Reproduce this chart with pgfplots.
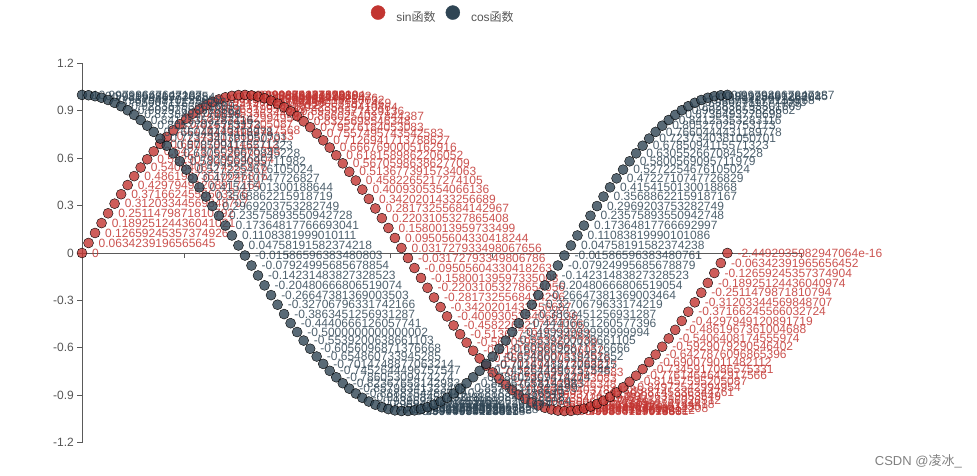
\documentclass[border=0pt]{standalone}
\usepackage{pgfplots}
\pgfplotsset{compat=1.18}
\usepackage{pgfplotstable}
\usepackage{fontspec}
\setmainfont{Liberation Sans}
\newfontfamily\cjk{Noto Sans CJK SC}

\definecolor{sinred}{HTML}{C23531}
\definecolor{cosblue}{HTML}{2F4554}
\definecolor{axisgray}{HTML}{5A5A5A}
\definecolor{labelgray}{HTML}{555555}

% sin(x) sampled at x_k = 2*pi*k/99, k = 0..99
\pgfplotstableread{
x y
0 0
0.06347 0.0634239196565645
0.12693 0.12659245357374926
0.19040 0.18925124436041021
0.25387 0.2511479871810792
0.31733 0.31203344569848707
0.38080 0.3716624556603276
0.44427 0.42979491208917164
0.50773 0.48619673610046876
0.57120 0.5406408174555976
0.63467 0.5929079290546404
0.69813 0.6427876096865393
0.76160 0.690079011482112
0.82506 0.7345917086575333
0.88853 0.7761464642917568
0.95200 0.81457595205087
1.01546 0.84972542994954
1.07893 0.88145336344761
1.14240 0.9096319953549
1.20586 0.93414786026512
1.26933 0.95490224144418
1.33280 0.9718115683235
1.39626 0.984807753012208
1.45973 0.99383846446122
1.52320 0.99886733918301
1.58666 0.99987412767388
1.65013 0.99685477595194
1.71360 0.98982144188092
1.77706 0.97880244621476
1.84053 0.96384215856032
1.90400 0.94500081871469
1.96746 0.92235429410464
2.03093 0.89599377429136
2.09440 0.8660254037844387
2.15786 0.8325698546348
2.22133 0.79576184053083
2.28479 0.7557495743542583
2.34826 0.7126941713788627
2.41173 0.6667690005162916
2.47519 0.6181589862206052
2.53866 0.5670598638627709
2.60213 0.5136773915734063
2.66559 0.4582265217274105
2.72906 0.4009305354066136
2.79253 0.3420201433256689
2.85599 0.28173255684142967
2.91946 0.2203105327865408
2.98293 0.1580013959733499
3.04639 0.09505604330418244
3.10986 0.031727933498067656
3.17333 -0.03172793349806786
3.23679 -0.09505604330418263
3.30026 -0.15800139597335008
3.36373 -0.22031053278654056
3.42719 -0.2817325568414296
3.49066 -0.3420201433256687
3.55412 -0.4009305354066136
3.61759 -0.4582265217274105
3.68106 -0.5136773915734063
3.74452 -0.5670598638627709
3.80799 -0.6181589862206052
3.87146 -0.6667690005162916
3.93492 -0.7126941713788627
3.99839 -0.7557495743542583
4.06186 -0.79576184053083
4.12532 -0.8325698546348
4.18879 -0.8660254037844386
4.25226 -0.89599377429136
4.31572 -0.92235429410464
4.37919 -0.94500081871469
4.44266 -0.96384215856032
4.50612 -0.97880244621476
4.56959 -0.98982144188092
4.63306 -0.99685477595194
4.69652 -0.99987412767388
4.75999 -0.99886733918301
4.82346 -0.99383846446122
4.88692 -0.984807753012208
4.95039 -0.9718115683235
5.01385 -0.95490224144418
5.07732 -0.93414786026512
5.14079 -0.9096319953549
5.20425 -0.88145336344761
5.26772 -0.84972542994954
5.33119 -0.81457595205087
5.39465 -0.7761464642917566
5.45812 -0.7345917086575331
5.52159 -0.690079011482112
5.58505 -0.6427876096865396
5.64852 -0.5929079290546402
5.71199 -0.5406408174555974
5.77545 -0.4861967361004688
5.83892 -0.4297949120891719
5.90239 -0.37166245566032724
5.96585 -0.31203344569848707
6.02932 -0.2511479871810794
6.09279 -0.18925124436040974
6.15625 -0.12659245357374904
6.21972 -0.06342391965656452
6.28319 -2.4492935982947064e-16
}\sindata

% cos(x) at the same sample points
\pgfplotstableread{
x y
0 1
0.06347 0.99798667647187
0.12693 0.99195481283085
0.19040 0.98192869726284
0.25387 0.96794870139658
0.31733 0.95007111774093
0.38080 0.92836793301609
0.44427 0.90292653828662
0.50773 0.8738493770698
0.57120 0.84125353283116
0.63467 0.80527025753173
0.69813 0.766044443118978
0.76160 0.7237340381050701
0.82506 0.6785094115571323
0.88853 0.6305526670845228
0.95200 0.5800569095711982
1.01546 0.5272254676105024
1.07893 0.4722710747726827
1.14240 0.41541501300188644
1.20586 0.3568862215918719
1.26933 0.2969203753282749
1.33280 0.23575893550942728
1.39626 0.17364817766693041
1.45973 0.1108381999010111
1.52320 0.04758191582374218
1.58666 -0.01586596383480803
1.65013 -0.07924995685678854
1.71360 -0.14231483827328523
1.77706 -0.20480666806519074
1.84053 -0.26647381369003503
1.90400 -0.32706796331742166
1.96746 -0.3863451256931287
2.03093 -0.4440666126057741
2.09440 -0.5000000000000002
2.15786 -0.5539200638661103
2.22133 -0.6056096871376668
2.28479 -0.654860733945285
2.34826 -0.7014748877063214
2.41173 -0.7452644496757547
2.47519 -0.78605309474274
2.53866 -0.82367658142983
2.60213 -0.85798341323499
2.66559 -0.8888354486549
2.72906 -0.91610845743218
2.79253 -0.9396926207859083
2.85599 -0.95949297361444
2.91946 -0.97542978688547
2.98293 -0.98743888867628
3.04639 -0.99547192257348
3.10986 -0.99949654238318
3.17333 -0.99949654238318
3.23679 -0.99547192257348
3.30026 -0.98743888867628
3.36373 -0.97542978688547
3.42719 -0.95949297361444
3.49066 -0.9396926207859084
3.55412 -0.91610845743218
3.61759 -0.8888354486549
3.68106 -0.85798341323499
3.74452 -0.82367658142983
3.80799 -0.78605309474274
3.87146 -0.7452644496757548
3.93492 -0.7014748877063215
3.99839 -0.6548607339452852
4.06186 -0.6056096871376666
4.12532 -0.5539200638661105
4.18879 -0.49999999999999994
4.25226 -0.44406661260577396
4.31572 -0.3863451256931287
4.37919 -0.3270679633174219
4.44266 -0.26647381369003464
4.50612 -0.20480666806519054
4.56959 -0.14231483827328523
4.63306 -0.07924995685678879
4.69652 -0.01586596383480761
4.75999 0.04758191582374238
4.82346 0.11083819990101086
4.88692 0.17364817766692997
4.95039 0.23575893550942748
5.01385 0.2969203753282749
5.07732 0.35688622159187167
5.14079 0.4154150130018868
5.20425 0.4722710747726829
5.26772 0.5272254676105024
5.33119 0.5800569095711979
5.39465 0.6305526670845228
5.45812 0.6785094115571323
5.52159 0.7237340381050701
5.58505 0.7660444431189778
5.64852 0.80527025753173
5.71199 0.84125353283116
5.77545 0.8738493770698
5.83892 0.90292653828662
5.90239 0.92836793301609
5.96585 0.95007111774093
6.02932 0.96794870139658
6.09279 0.98192869726284
6.15625 0.99195481283085
6.21972 0.99798667647187
6.28319 1
}\cosdata

\begin{document}
\begin{tikzpicture}
\useasboundingbox (0,0) rectangle (977pt,476pt);
\begin{axis}[
  at={(82pt,33.3pt)}, anchor=south west,
  scale only axis, width=719pt, height=379.4pt,
  xmin=0, xmax=7, ymin=-1.2, ymax=1.2,
  clip=false,
  axis y line*=left, axis x line*=bottom,
  x axis line style={draw=none},
  y axis line style={draw=axisgray, line width=0.8pt},
  xtick={0,1,2,3,4,5,6,7},
  xticklabels={0,1,2,3,4,5,6,7},
  xmajorticks=false,
  ytick={-1.2,-0.9,-0.6,-0.3,0,0.3,0.6,0.9,1.2},
  yticklabels={-1.2,-0.9,-0.6,-0.3,0,0.3,0.6,0.9,1.2},
  tick align=outside, major tick length=5pt,
  y tick style={draw=axisgray, line width=0.8pt},
  tick label style={font=\fontsize{12pt}{14pt}\selectfont, text=labelgray},
  x tick label style={anchor=north, inner sep=0pt, yshift=-9pt},
  y tick label style={anchor=east, inner sep=0pt, xshift=-3pt},
  legend style={at={(0.4015,1.13)}, anchor=west, draw=none, fill=none,
    inner sep=0pt, legend columns=-1,
    font=\fontsize{12pt}{14pt}\selectfont, text=labelgray,
    nodes={inner sep=0pt},
    /tikz/every odd column/.append style={column sep=11pt},
    /tikz/every even column/.append style={column sep=10pt}},
  legend cell align=left,
]
% legend entries
\addlegendimage{legend image code/.code={\fill[sinred] (7pt,4.2pt) circle (7pt);}}
\addlegendentry{sin{\cjk 函数}}
\addlegendimage{legend image code/.code={\fill[cosblue] (7pt,4.2pt) circle (7pt);}}
\addlegendentry{cos{\cjk 函数}}

% x axis line through y = 0 with its ticks
\draw[axisgray, line width=0.8pt] (axis cs:0,0) -- (axis cs:7,0);
\draw[axisgray, line width=0.8pt]
  (axis cs:1,0) -- ++(0pt,-5pt)
  (axis cs:2,0) -- ++(0pt,-5pt)
  (axis cs:3,0) -- ++(0pt,-5pt)
  (axis cs:4,0) -- ++(0pt,-5pt)
  (axis cs:5,0) -- ++(0pt,-5pt)
  (axis cs:6,0) -- ++(0pt,-5pt)
  (axis cs:7,0) -- ++(0pt,-5pt);

\addplot[forget plot, only marks, mark=*, mark size=5pt,
  mark options={draw=none, fill=sinred, fill opacity=0.8},
  point meta=explicit symbolic,
  nodes near coords={\pgfplotspointmeta},
  every node near coord/.append style={anchor=west, inner sep=0pt,
    xshift=10pt, yshift=0pt, font=\fontsize{12pt}{14pt}\selectfont,
    text=sinred, text opacity=0.85}]
  table[x=x, y=y, meta=y] {\sindata};

\addplot[forget plot, only marks, mark=*, mark size=5pt,
  mark options={draw=none, fill=cosblue, fill opacity=0.8},
  point meta=explicit symbolic,
  nodes near coords={\pgfplotspointmeta},
  every node near coord/.append style={anchor=west, inner sep=0pt,
    xshift=10pt, yshift=0pt, font=\fontsize{12pt}{14pt}\selectfont,
    text=cosblue, text opacity=0.85}]
  table[x=x, y=y, meta=y] {\cosdata};
\end{axis}
\node[anchor=base east, inner sep=0pt, font=\fontsize{13pt}{15pt}\selectfont,
  text=gray] at (962pt,10pt) {CSDN @{\cjk 凌冰}\_};
\end{tikzpicture}
\end{document}
